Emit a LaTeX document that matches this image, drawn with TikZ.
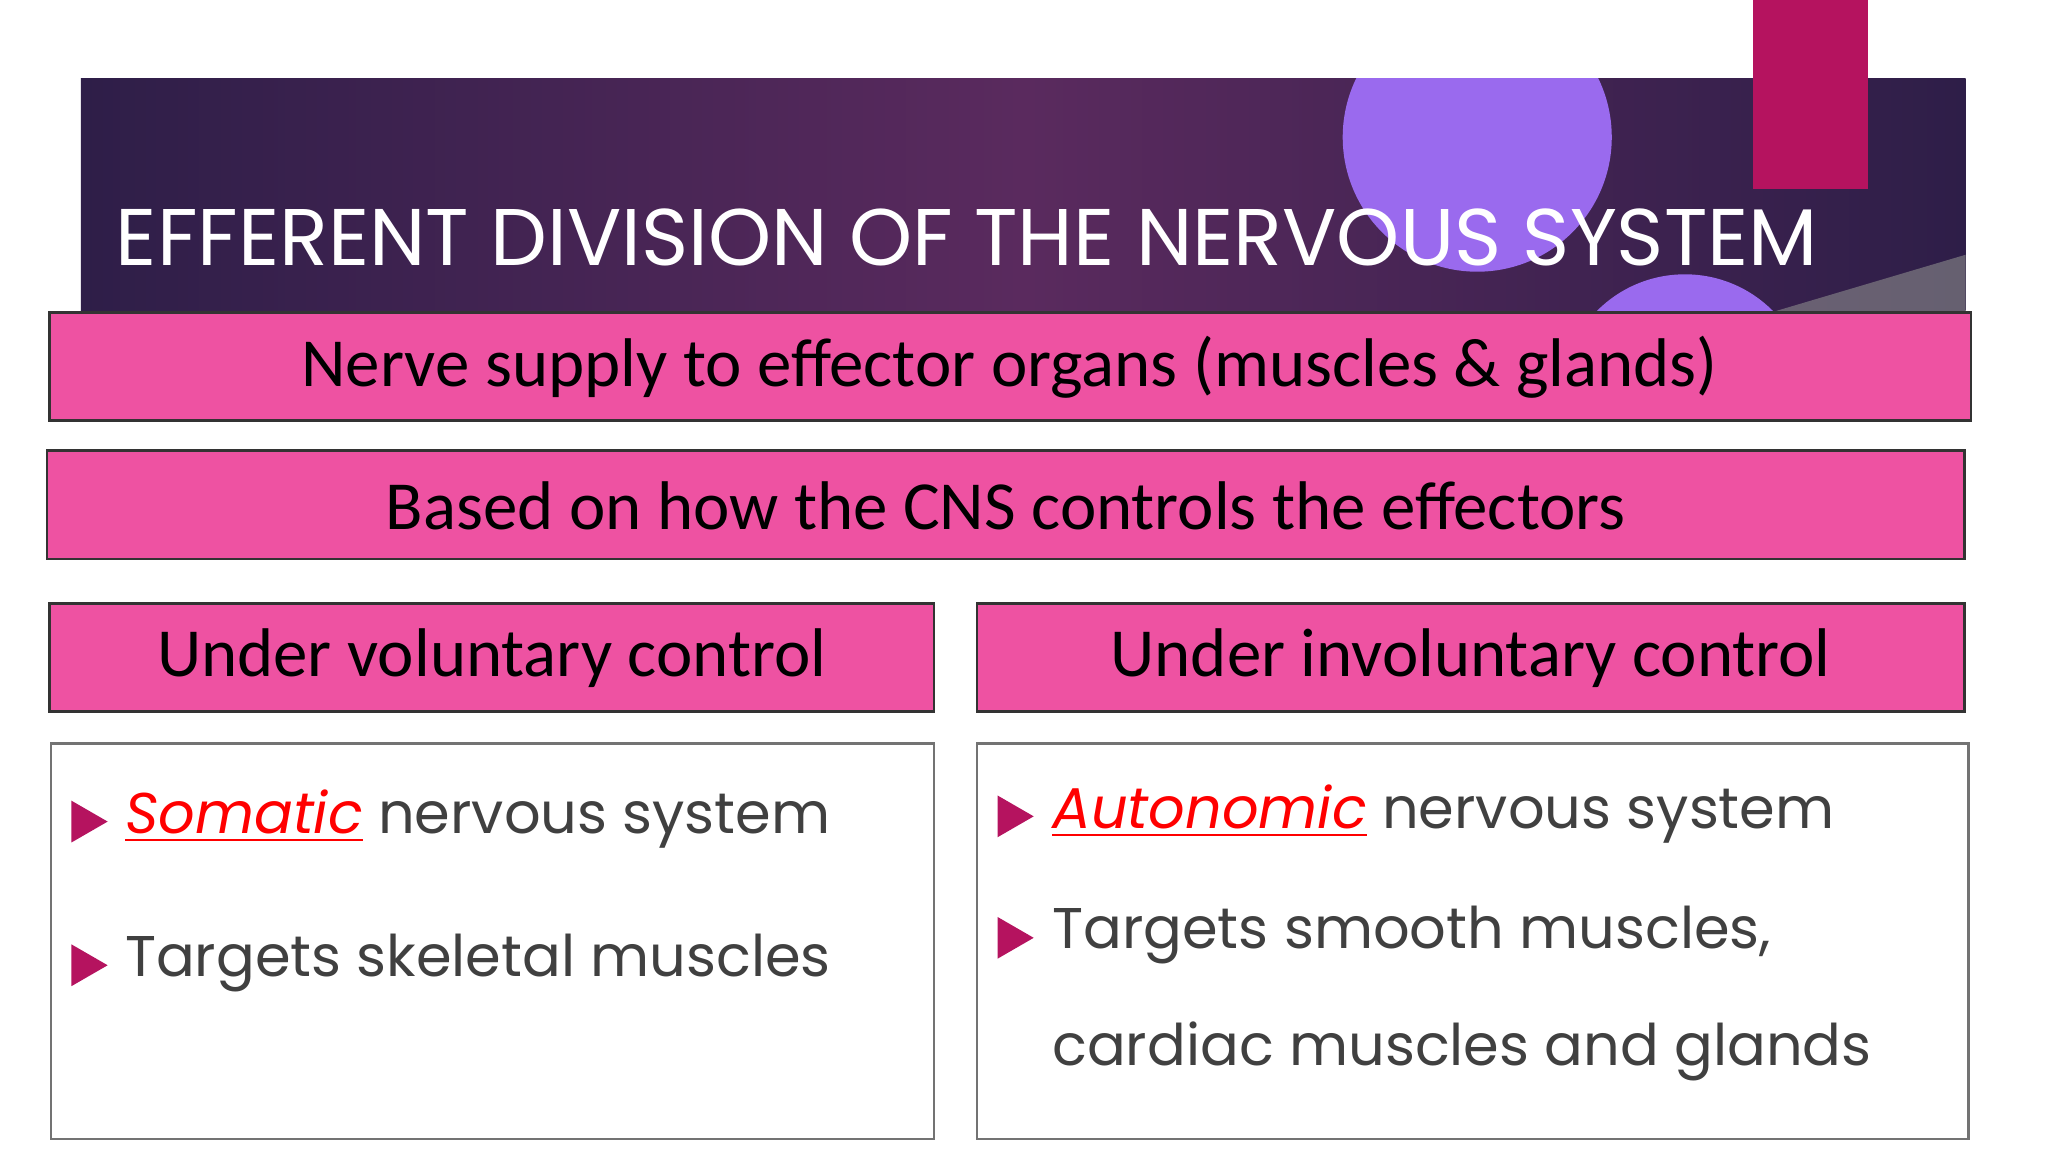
\documentclass[tikz,border=0pt]{standalone}
\usepackage{fontspec}
\setmainfont{Carlito}
\newfontfamily\gothic{Poppins}
\usetikzlibrary{shapes.geometric}
\definecolor{pinkbox}{HTML}{EE52A2}
\definecolor{magbar}{HTML}{B5135F}
\definecolor{txtgray}{HTML}{404040}
\definecolor{bannerA}{HTML}{2E1E48}
\definecolor{bannerB}{HTML}{5A2A5E}
\definecolor{circ}{HTML}{9A6AEE}
\begin{document}
\begin{tikzpicture}[x=1cm,y=1cm,
  pinkrect/.style={draw=black!80,line width=0.6pt,fill=pinkbox},
  pinktext/.style={font=\fontsize{15}{18}\selectfont,text=black},
  whitebox/.style={draw=black!55,line width=0.6pt,fill=white},
  bodytext/.style={font=\gothic\fontsize{12.5}{15}\selectfont,text=txtgray,anchor=west,inner sep=0pt},
  bullet/.style={fill=magbar,draw=none,isosceles triangle,isosceles triangle apex angle=60,minimum width=0.32cm,minimum height=0.27cm,inner sep=0pt,anchor=west}]
\fill[white] (0,0) rectangle (15.68,-8.82);
\useasboundingbox (0,0) rectangle (15.68,-8.82);
% banner
\begin{scope}
\clip (0.62,-0.60) rectangle (15.05,-2.38);
\shade[left color=bannerA,right color=bannerA,middle color=bannerB] (0.62,-0.60) rectangle (15.05,-2.38);
\fill[circ] (11.31,-1.05) circle (1.03);
\fill[circ] (12.90,-3.05) circle (0.95);
\fill[black!45,opacity=0.6] (13.6,-2.38) -- (15.05,-1.95) -- (15.05,-2.38) -- cycle;
\end{scope}
\fill[magbar] (13.42,0) rectangle (14.30,-1.45);
\node[font=\gothic\fontsize{17.5}{20}\selectfont,text=white,anchor=west,inner sep=0pt] (title) at (0.88,-1.82) {EFFERENT DIVISION OF THE NERVOUS SYSTEM};
% pink boxes
\draw[pinkrect] (0.38,-2.39) rectangle (15.09,-3.22);
\node[pinktext] (n1) at (7.73,-2.81) {Nerve supply to effector organs (muscles \& glands)};
\draw[pinkrect] (0.36,-3.45) rectangle (15.04,-4.28);
\node[pinktext] (n2) at (7.70,-3.87) {Based on how the CNS controls the effectors};
\draw[pinkrect] (0.38,-4.62) rectangle (7.15,-5.45);
\node[pinktext] (n3) at (3.765,-5.04) {Under voluntary control};
\draw[pinkrect] (7.48,-4.62) rectangle (15.04,-5.45);
\node[pinktext] (n4) at (11.26,-5.04) {Under involuntary control};
% white boxes
\draw[whitebox] (0.39,-5.69) rectangle (7.15,-8.72);
\draw[whitebox] (7.48,-5.69) rectangle (15.07,-8.72);
\node[bullet] (b1) at (0.54,-6.29) {};
\node[bodytext] (t1) at (0.95,-6.27) {{\color{red}\itshape\underline{Somatic}} nervous system};
\node[bullet] (b2) at (0.54,-7.39) {};
\node[bodytext] (t2) at (0.95,-7.37) {Targets skeletal muscles};
\node[bullet] (b3) at (7.63,-6.25) {};
\node[bodytext] (t3) at (8.05,-6.23) {{\color{red}\itshape\underline{Autonomic}} nervous system};
\node[bullet] (b4) at (7.63,-7.18) {};
\node[bodytext] (t4) at (8.05,-7.16) {Targets smooth muscles,};
\node[bodytext] (t5) at (8.05,-8.05) {cardiac muscles and glands};
\end{tikzpicture}
\end{document}
